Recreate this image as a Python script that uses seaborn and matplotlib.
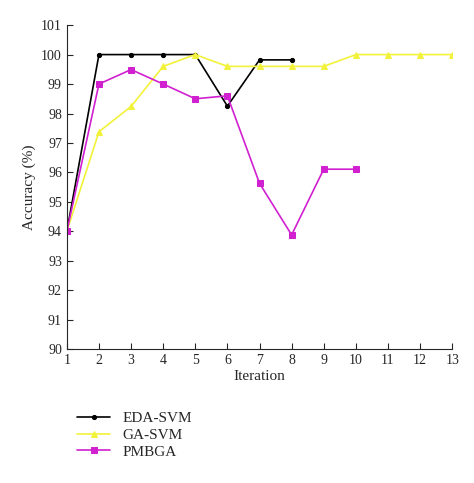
import seaborn as sns
import matplotlib.pyplot as plt
import pandas as pd

iteration_eda = [1, 2, 3, 4, 5, 6, 7, 8]
acc_eda = [94, 100, 100, 100, 100, 98.25, 99.82, 99.82]
iteration_ga = list(range(1, 14))
acc_ga = [94, 97.38, 98.24, 99.6, 100, 99.6, 99.6, 99.6, 99.6, 100, 100, 100, 100]
iteration_pm = list(range(1, 11))
acc_pm = [94, 99, 99.49, 99, 98.5, 98.6, 95.63, 93.88, 96.11, 96.11]

sns.set_style("ticks")
plt.rcParams['font.family'] = ['Liberation Serif', 'DejaVu Serif']

fig = plt.figure(figsize=(4.74, 4.83), dpi=100)
ax = fig.add_axes([0.141, 0.277, 0.813, 0.671])

series = [
    ("EDA-SVM", iteration_eda, acc_eda, "black", "o", 3),
    ("GA-SVM", iteration_ga, acc_ga, "#f2f23a", "^", 4),
    ("PMBGA", iteration_pm, acc_pm, "#d020d0", "s", 4),
]
for name, x, y, c, m, ms in series:
    df = pd.DataFrame({"Iteration": x, "Accuracy": y})
    sns.lineplot(data=df, x="Iteration", y="Accuracy", ax=ax, color=c, marker=m,
                 markersize=ms, markeredgecolor=c, linewidth=1.2, label=name)

ax.set_xlim(1, 13)
ax.set_ylim(90, 101)
ax.set_xticks(range(1, 14))
ax.set_yticks(range(90, 102))
ax.set_xlabel("Iteration", fontsize=11, labelpad=2)
ax.set_ylabel("Accuracy (%)", fontsize=11)
ax.tick_params(labelsize=10, direction="in", length=4)
sns.despine(ax=ax)
ax.legend(loc="upper left", bbox_to_anchor=(-0.01, -0.15), frameon=False,
          fontsize=11, handlelength=2.2, labelspacing=0.2)

fig.savefig("out.png", dpi=100)
